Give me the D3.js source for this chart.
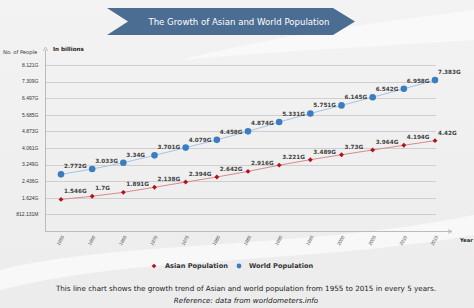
<!DOCTYPE html>
<html>
<head>
<meta charset="utf-8">
<script src="https://cdn.jsdelivr.net/npm/d3@7"></script>
<style>
  html, body { margin: 0; padding: 0; background: #efefef; }
  svg { display: block; }
</style>
</head>
<body>
<div id="chart"></div>
<script>
// Данные
const years = [1955, 1960, 1965, 1970, 1975, 1980, 1985, 1990, 1995, 2000, 2005, 2010, 2015];
const worldPop = [2.772, 3.033, 3.34, 3.701, 4.079, 4.458, 4.874, 5.331, 5.751, 6.145, 6.542, 6.958, 7.383];
const asiaPop = [1.546, 1.7, 1.891, 2.138, 2.394, 2.642, 2.916, 3.221, 3.489, 3.73, 3.964, 4.194, 4.42];
const yTickValues = [0.812131, 1.624, 2.436, 3.249, 4.061, 4.873, 5.685, 6.497, 7.309, 8.121];
const yTickLabels = ["812.131M", "1.624G", "2.436G", "3.249G", "4.061G", "4.873G", "5.685G", "6.497G", "7.309G", "8.121G"];

const width = 474;
const height = 308;

const svg = d3.select("#chart")
    .append("svg")
    .attr("width", width)
    .attr("height", height);

// Фон
const defs = svg.append("defs");
const bg = defs.append("linearGradient")
    .attr("id", "bg")
    .attr("x1", "0%").attr("y1", "0%")
    .attr("x2", "0%").attr("y2", "100%");
bg.append("stop").attr("offset", "0%").attr("stop-color", "#f3f3f3");
bg.append("stop").attr("offset", "100%").attr("stop-color", "#ececec");

svg.append("rect")
    .attr("width", width)
    .attr("height", height)
    .attr("fill", "url(#bg)");

// белые волны
svg.append("path")
    .attr("d", "M0,270 C120,240 300,250 474,215 L474,235 C300,265 140,255 0,290 Z")
    .attr("fill", "#fff")
    .attr("opacity", 0.6);
svg.append("path")
    .attr("d", "M180,60 C300,30 400,20 474,10 L474,40 C400,45 300,50 180,60 Z")
    .attr("fill", "#fff")
    .attr("opacity", 0.5);

// Заголовок-стрелка
svg.append("polygon")
    .attr("points", "107,8 333,8 355,21.5 333,35 107,35 128,21.5")
    .attr("fill", "#4c6d92");

svg.append("text")
    .attr("x", 239)
    .attr("y", 24.5)
    .attr("text-anchor", "middle")
    .attr("font-family", "DejaVu Sans")
    .attr("font-size", "8.6px")
    .attr("fill", "#fff")
    .text("The Growth of Asian and World Population");

// Шкалы
const x = d3.scaleLinear()
    .domain([1955, 2015])
    .range([61, 435]);

const y = d3.scaleLinear()
    .domain([0, 8.121])
    .range([231, 65]);

const axisLeft = 45;
const axisBottom = 231;

// Сетка
svg.append("g")
    .selectAll("line")
    .data(yTickValues)
    .enter()
    .append("line")
    .attr("x1", axisLeft)
    .attr("x2", 436)
    .attr("y1", d => Math.round(y(d)) + 0.5)
    .attr("y2", d => Math.round(y(d)) + 0.5)
    .attr("stroke", "#cfcfcf")
    .attr("stroke-width", 1);

// Подписи оси Y
svg.append("g")
    .selectAll("text")
    .data(yTickValues)
    .enter()
    .append("text")
    .attr("x", 38.5)
    .attr("y", d => y(d))
    .attr("dy", "0.35em")
    .attr("text-anchor", "end")
    .attr("font-family", "Liberation Sans")
    .attr("font-size", "5px")
    .attr("fill", "#333")
    .text((d, i) => yTickLabels[i]);

// Оси со стрелками
svg.append("line")
    .attr("x1", axisLeft + 0.5).attr("x2", axisLeft + 0.5)
    .attr("y1", axisBottom).attr("y2", 50)
    .attr("stroke", "#bbb");
svg.append("path")
    .attr("d", `M${axisLeft - 1.5},51 L${axisLeft + 0.5},47 L${axisLeft + 2.5},51`)
    .attr("fill", "none")
    .attr("stroke", "#bbb");

svg.append("line")
    .attr("x1", axisLeft).attr("x2", 451)
    .attr("y1", axisBottom + 0.5).attr("y2", axisBottom + 0.5)
    .attr("stroke", "#bbb");
svg.append("path")
    .attr("d", `M448,${axisBottom - 1.5} L452,${axisBottom + 0.5} L448,${axisBottom + 2.5}`)
    .attr("fill", "none")
    .attr("stroke", "#bbb");

// Подписи оси X
svg.append("g")
    .selectAll("text")
    .data(years)
    .enter()
    .append("text")
    .attr("transform", d => `translate(${x(d) + 2}, ${axisBottom + 5}) rotate(-60)`)
    .attr("text-anchor", "end")
    .attr("dy", "0.35em")
    .attr("font-family", "Liberation Sans")
    .attr("font-size", "4.6px")
    .attr("fill", "#444")
    .text(d => d);

// Подписи осей
svg.append("text")
    .attr("x", 3).attr("y", 54)
    .attr("font-family", "DejaVu Sans")
    .attr("font-size", "5.2px")
    .attr("fill", "#333")
    .text("No. of People");

svg.append("text")
    .attr("x", 53).attr("y", 51)
    .attr("font-family", "DejaVu Sans")
    .attr("font-weight", "bold")
    .attr("font-size", "5.6px")
    .attr("fill", "#222")
    .text("In billions");

svg.append("text")
    .attr("x", 460).attr("y", 242)
    .attr("font-family", "DejaVu Sans")
    .attr("font-weight", "bold")
    .attr("font-size", "5.2px")
    .attr("fill", "#222")
    .text("Year");

// Линии
const line = d3.line()
    .x(d => x(d[0]))
    .y(d => y(d[1]));

const worldData = years.map((yr, i) => [yr, worldPop[i]]);
const asiaData = years.map((yr, i) => [yr, asiaPop[i]]);

svg.append("path")
    .datum(worldData)
    .attr("d", line)
    .attr("fill", "none")
    .attr("stroke", "#a3c4e6")
    .attr("stroke-width", 1);

svg.append("path")
    .datum(asiaData)
    .attr("d", line)
    .attr("fill", "none")
    .attr("stroke", "#d88a8e")
    .attr("stroke-width", 1);

// Точки
const worldColor = "#3b7dc0";
const asiaColor = "#b3121e";

svg.append("g")
    .selectAll("circle")
    .data(worldData)
    .enter()
    .append("circle")
    .attr("cx", d => x(d[0]))
    .attr("cy", d => y(d[1]))
    .attr("r", 3.3)
    .attr("fill", worldColor);

// ромб — повернутый квадрат
const diamond = d3.symbol().type(d3.symbolSquare).size(12);
svg.append("g")
    .selectAll("path")
    .data(asiaData)
    .enter()
    .append("path")
    .attr("d", diamond)
    .attr("transform", d => `translate(${x(d[0])}, ${y(d[1])}) rotate(45)`)
    .attr("fill", asiaColor);

// Подписи значений
function valueLabels(data) {
    svg.append("g")
        .selectAll("text")
        .data(data)
        .enter()
        .append("text")
        .attr("x", d => x(d[0]) + 3)
        .attr("y", d => y(d[1]) - 8)
        .attr("dy", "0.35em")
        .attr("font-family", "DejaVu Sans")
        .attr("font-weight", "bold")
        .attr("font-size", "5.7px")
        .attr("fill", "#444")
        .text(d => d[1] + "G");
}
valueLabels(worldData);
valueLabels(asiaData);

// Легенда
const legend = svg.append("g")
    .attr("transform", "translate(0, 266)");

legend.append("path")
    .attr("d", d3.symbol().type(d3.symbolSquare).size(11))
    .attr("transform", "translate(154, 0) rotate(45)")
    .attr("fill", asiaColor);
legend.append("text")
    .attr("x", 165).attr("y", 0)
    .attr("dy", "0.35em")
    .attr("font-family", "DejaVu Sans")
    .attr("font-weight", "bold")
    .attr("font-size", "6.6px")
    .attr("fill", "#333")
    .text("Asian Population");

legend.append("circle")
    .attr("cx", 239).attr("cy", 0)
    .attr("r", 2.4)
    .attr("fill", worldColor);
legend.append("text")
    .attr("x", 249).attr("y", 0)
    .attr("dy", "0.35em")
    .attr("font-family", "DejaVu Sans")
    .attr("font-weight", "bold")
    .attr("font-size", "6.6px")
    .attr("fill", "#333")
    .text("World Population");

// Описание
svg.append("text")
    .attr("x", 246).attr("y", 288.5)
    .attr("dy", "0.35em")
    .attr("text-anchor", "middle")
    .attr("font-family", "DejaVu Sans")
    .attr("font-size", "7.2px")
    .attr("fill", "#222")
    .text("This line chart shows the growth trend of Asian and world population from 1955 to 2015 in every 5 years.");

svg.append("text")
    .attr("x", 246).attr("y", 300.5)
    .attr("dy", "0.35em")
    .attr("text-anchor", "middle")
    .attr("font-family", "DejaVu Sans")
    .attr("font-style", "italic")
    .attr("font-size", "7.2px")
    .attr("fill", "#222")
    .text("Reference: data from worldometers.info");
</script>
</body>
</html>
